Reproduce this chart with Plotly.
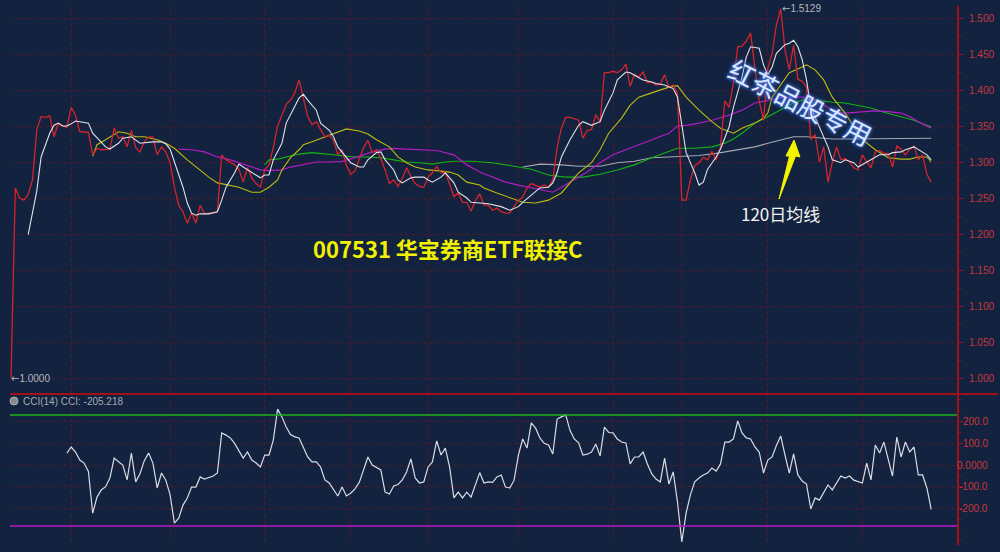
import plotly.graph_objects as go

# ---------------- data ----------------
close_days = list(range(0, 215))
close_values = [
    1.000, 1.264, 1.250, 1.247, 1.255, 1.275, 1.345, 1.363, 1.362, 1.364,
    1.335, 1.354, 1.350, 1.348, 1.376, 1.365, 1.342, 1.342, 1.341, 1.310,
    1.319, 1.317, 1.317, 1.318, 1.347, 1.333, 1.335, 1.321, 1.344, 1.320,
    1.314, 1.328, 1.335, 1.335, 1.310, 1.321, 1.314, 1.299, 1.265, 1.240,
    1.231, 1.215, 1.229, 1.215, 1.240, 1.228, 1.229, 1.229, 1.231, 1.310,
    1.303, 1.299, 1.296, 1.290, 1.272, 1.292, 1.278, 1.270, 1.265, 1.289,
    1.296, 1.320, 1.350, 1.365, 1.380, 1.386, 1.396, 1.414, 1.390, 1.363,
    1.352, 1.356, 1.345, 1.335, 1.337, 1.330, 1.310, 1.317, 1.295, 1.283,
    1.288, 1.305, 1.320, 1.330, 1.313, 1.317, 1.305, 1.289, 1.270, 1.275,
    1.266, 1.277, 1.292, 1.280, 1.270, 1.266, 1.265, 1.279, 1.285, 1.294,
    1.285, 1.286, 1.270, 1.252, 1.257, 1.244, 1.244, 1.232, 1.246, 1.256,
    1.240, 1.240, 1.233, 1.236, 1.231, 1.229, 1.229, 1.239, 1.247, 1.251,
    1.264, 1.270, 1.268, 1.265, 1.268, 1.265, 1.275, 1.320, 1.347, 1.362,
    1.362, 1.360, 1.358, 1.333, 1.344, 1.345, 1.366, 1.355, 1.424, 1.424,
    1.426, 1.424, 1.428, 1.436, 1.405, 1.422, 1.418, 1.425, 1.410, 1.411,
    1.407, 1.408, 1.421, 1.404, 1.407, 1.395, 1.247, 1.247, 1.275, 1.295,
    1.299, 1.306, 1.303, 1.315, 1.303, 1.321, 1.385, 1.376, 1.410, 1.460,
    1.461, 1.468, 1.479, 1.430, 1.385, 1.358, 1.430, 1.451, 1.490, 1.5129,
    1.456, 1.428, 1.462, 1.415, 1.412, 1.404, 1.331, 1.338, 1.300, 1.321,
    1.272, 1.300, 1.321, 1.303, 1.305, 1.300, 1.292, 1.289, 1.310, 1.300,
    1.292, 1.314, 1.316, 1.312, 1.312, 1.293, 1.322, 1.318, 1.310, 1.318,
    1.322, 1.303, 1.310, 1.283, 1.272,
]

ma5_days = [4, 6, 7, 9, 10, 11, 12, 13, 14, 15, 16, 18, 19, 21, 22, 23, 25, 26, 27, 28,
            30, 32, 33, 35, 36, 37, 38, 39, 40, 41, 42, 43, 44, 46, 48, 49, 50, 52, 53, 54,
            56, 58, 59, 60, 61, 63, 64, 66, 67, 68, 69, 71, 72, 74, 75, 76, 78, 79, 81, 82,
            83, 85, 86, 87, 89, 90, 91, 93, 94, 96, 97, 98, 100, 101, 103, 104, 106, 107, 109, 111,
            114, 115, 116, 118, 119, 121, 123, 125, 126, 127, 128, 130, 132, 133, 134, 135, 137, 138, 140, 141,
            143, 144, 146, 147, 149, 150, 152, 153, 154, 155, 156, 157, 159, 160, 161, 162, 164, 165, 167, 168,
            170, 171, 172, 174, 175, 176, 177, 178, 180, 181, 182, 183, 184, 185, 186, 188, 190, 191, 193, 194,
            196, 197, 199, 200, 202, 204, 205, 207, 208, 210, 211, 213, 214]
ma5_values = [1.199, 1.260, 1.307, 1.340, 1.351, 1.354, 1.350, 1.350, 1.353, 1.357, 1.356, 1.354, 1.340, 1.328, 1.321, 1.318, 1.326, 1.333, 1.334, 1.335,
              1.326, 1.328, 1.328, 1.328, 1.325, 1.318, 1.300, 1.285, 1.265, 1.243, 1.229, 1.226, 1.228, 1.228, 1.231, 1.247, 1.265, 1.285, 1.297, 1.293,
              1.285, 1.278, 1.282, 1.282, 1.303, 1.326, 1.354, 1.376, 1.389, 1.394, 1.386, 1.372, 1.354, 1.344, 1.335, 1.321, 1.307, 1.299, 1.293, 1.293,
              1.303, 1.313, 1.314, 1.303, 1.289, 1.275, 1.271, 1.278, 1.279, 1.279, 1.275, 1.272, 1.279, 1.285, 1.271, 1.258, 1.250, 1.244, 1.243, 1.242,
              1.238, 1.236, 1.233, 1.238, 1.244, 1.254, 1.264, 1.265, 1.271, 1.285, 1.307, 1.331, 1.351, 1.356, 1.354, 1.351, 1.356, 1.372, 1.396, 1.414,
              1.425, 1.424, 1.417, 1.414, 1.411, 1.409, 1.407, 1.404, 1.402, 1.390, 1.354, 1.313, 1.285, 1.268, 1.272, 1.290, 1.307, 1.318, 1.349, 1.376,
              1.418, 1.446, 1.460, 1.458, 1.435, 1.421, 1.432, 1.451, 1.463, 1.465, 1.469, 1.460, 1.442, 1.414, 1.376, 1.349, 1.321, 1.303, 1.299, 1.303,
              1.299, 1.293, 1.300, 1.303, 1.310, 1.310, 1.313, 1.314, 1.317, 1.321, 1.317, 1.310, 1.303]

ma10_days = [19, 20, 22, 25, 27, 29, 31, 34, 36, 38, 41, 44, 46, 48, 51, 53, 56, 58, 60, 62,
             63, 65, 67, 68, 70, 73, 75, 78, 81, 83, 85, 88, 90, 92, 94, 97, 99, 102, 104, 106,
             109, 110, 113, 116, 119, 122, 125, 128, 130, 132, 135, 137, 139, 142, 144, 146, 149, 151, 153, 155,
             157, 160, 163, 165, 168, 170, 173, 175, 176, 177, 179, 181, 184, 185, 187, 189, 191, 194, 196, 198,
             201, 203, 204, 207, 209, 211, 213, 214]
ma10_values = [1.308, 1.324, 1.331, 1.342, 1.340, 1.335, 1.335, 1.331, 1.326, 1.319, 1.303, 1.289, 1.279, 1.271, 1.268, 1.265, 1.258, 1.258, 1.265, 1.275,
               1.289, 1.306, 1.317, 1.324, 1.328, 1.335, 1.340, 1.346, 1.343, 1.339, 1.331, 1.321, 1.307, 1.299, 1.293, 1.289, 1.288, 1.286, 1.282, 1.272,
               1.268, 1.264, 1.257, 1.251, 1.244, 1.243, 1.247, 1.257, 1.271, 1.285, 1.299, 1.317, 1.340, 1.361, 1.379, 1.390, 1.396, 1.400, 1.404, 1.406,
               1.390, 1.372, 1.356, 1.347, 1.340, 1.347, 1.354, 1.361, 1.368, 1.390, 1.407, 1.424, 1.432, 1.435, 1.428, 1.414, 1.390, 1.368, 1.349, 1.331,
               1.317, 1.310, 1.306, 1.304, 1.304, 1.307, 1.307, 1.300]

ma20_days = [59, 60, 62, 65, 67, 70, 73, 77, 80, 83, 86, 89, 92, 95, 98, 101, 103, 107, 112, 117,
             121, 125, 129, 133, 137, 141, 145, 149, 153, 155, 159, 163, 166, 168, 170, 173, 176, 179, 182, 185,
             187, 191, 194, 197, 200, 203, 207, 210, 212, 214]
ma20_values = [1.296, 1.303, 1.304, 1.308, 1.311, 1.313, 1.311, 1.308, 1.307, 1.307, 1.306, 1.303, 1.300, 1.299, 1.297, 1.300, 1.301, 1.301, 1.299, 1.294,
               1.290, 1.282, 1.279, 1.279, 1.283, 1.289, 1.296, 1.306, 1.314, 1.319, 1.319, 1.321, 1.326, 1.332, 1.340, 1.354, 1.363, 1.372, 1.382, 1.388,
               1.386, 1.383, 1.382, 1.379, 1.375, 1.369, 1.363, 1.358, 1.353, 1.349]

ma30_days = [39, 42, 45, 48, 51, 53, 56, 58, 60, 63, 65, 68, 71, 74, 77, 80, 82, 84, 87, 89,
             92, 95, 99, 103, 106, 109, 112, 115, 118, 121, 124, 126, 128, 131, 134, 137, 140, 143, 146, 149,
             153, 155, 157, 160, 163, 167, 170, 173, 176, 179, 182, 184, 187, 190, 192, 194, 197, 201, 204, 207,
             209, 211, 214]
ma30_values = [1.318, 1.317, 1.314, 1.307, 1.303, 1.299, 1.293, 1.289, 1.288, 1.289, 1.293, 1.297, 1.300, 1.300, 1.301, 1.306, 1.310, 1.314, 1.318, 1.319,
               1.318, 1.317, 1.316, 1.310, 1.296, 1.286, 1.279, 1.272, 1.268, 1.264, 1.261, 1.258, 1.265, 1.275, 1.286, 1.299, 1.310, 1.317, 1.324, 1.331,
               1.340, 1.350, 1.351, 1.354, 1.358, 1.365, 1.372, 1.382, 1.386, 1.389, 1.390, 1.390, 1.386, 1.376, 1.369, 1.368, 1.369, 1.371, 1.370, 1.368,
               1.363, 1.356, 1.347]

ma120_days = [119, 123, 128, 132, 137, 141, 145, 149, 153, 156, 160, 164, 168, 170, 173, 176, 179, 182, 185, 188,
              191, 194, 199, 204, 209, 214]
ma120_values = [1.293, 1.297, 1.296, 1.294, 1.294, 1.299, 1.301, 1.306, 1.307, 1.308, 1.309, 1.312, 1.316, 1.319, 1.321, 1.326, 1.331, 1.335, 1.335, 1.333,
                1.332, 1.332, 1.332, 1.332, 1.333, 1.333]

cci_days = list(range(13, 215))
cci_values = [
    55, 83, 60, 23, 9, -30, -222, -148, -115, -100,
    -60, 32, 15, 0, -69, 55, -78, -40, 20, 55,
    9, -106, -37, -70, -138, -268, -245, -185, -152, -102,
    -102, -55, -65, -58, -51, -37, 148, 138, 125, 100,
    65, 32, 60, 23, 9, -9, 46, 46, 115, 258,
    222, 175, 140, 130, 125, 80, 37, 14, 14, -9,
    -69, -83, -115, -143, -102, -143, -130, -110, -80, -20,
    37, 0, -10, -23, -125, -134, -97, -90, -69, -32,
    28, -60, -83, -78, -9, 14, 111, 46, 78, -9,
    -152, -125, -152, -125, -148, -90, -35, -83, -78, -80,
    -55, -46, -102, -106, -70, 46, 120, 78, 194, 170,
    125, 100, 92, 51, 212, 222, 231, 160, 120, 102,
    46, 50, 60, 97, 42, 175, 150, 148, 120, 106,
    102, 5, 37, 37, 60, 5, -40, -65, -78, 32,
    -88, -32, -171, -355, -222, -138, -78, -60, -46, -37,
    -14, -28, 5, 106, 106, 120, 203, 148, 125, 120,
    83, 60, -37, 23, 37, 90, 134, 46, -37, 51,
    -46, -74, -88, -203, -152, -162, -125, -92, -115, -80,
    -51, -60, -51, -70, -78, -83, 9, -69, 92, 55,
    106, 30, -51, 129, 37, 106, 60, 83, -46, -46,
    -106, -205.218,
]
assert len(cci_values) == len(cci_days)
assert len(close_values) == len(close_days)

cci_upper_level = 231
cci_lower_level = -281
month_start_days = [14, 37, 59, 79, 97, 118, 140, 156, 176, 198]
price_ticks = [1.00, 1.05, 1.10, 1.15, 1.20, 1.25, 1.30, 1.35, 1.40, 1.45, 1.50]
cci_ticks = [200, 100, 0, -100, -200]
cci_tick_labels = ["200.0", "100.0", "0.0000", "-100.0", "-200.0"]

fund_title = "007531 华宝券商ETF联接C"
ma_note = "120日均线"
watermark = "红茶品股专用"
cci_label = "CCI(14) CCI: -205.218"

# ---------------- figure layout helpers ----------------
W, H = 1000, 552
ML, MR = 10, 43
PW = W - ML - MR


def paper(xp, yp):
    return (xp - ML) / PW, (H - yp) / H


BG = "#12223f"
GRID = "#561727"
AXIS = "#a01018"
TICKC = "#c8383c"
FONT = "Liberation Sans, Arial, sans-serif"
CJK = "Noto Sans CJK SC, sans-serif"
ARROW = "<span style='font-family:DejaVu Sans'>←</span>"

fig = go.Figure()

line_specs = [
    (ma120_days, ma120_values, "#a4a8b2", 1.1),
    (ma20_days, ma20_values, "#12b412", 1.1),
    (ma30_days, ma30_values, "#b41cc4", 1.2),
    (ma10_days, ma10_values, "#bdbd12", 1.1),
    (close_days, close_values, "#d4242c", 1.3),
    (ma5_days, ma5_values, "#dfe3ea", 1.1),
]
for xs, ys, col, w in line_specs:
    fig.add_trace(go.Scatter(x=xs, y=ys, mode="lines", line=dict(color=col, width=w),
                             hoverinfo="skip", showlegend=False, xaxis="x", yaxis="y"))

fig.add_trace(go.Scatter(x=cci_days, y=cci_values, mode="lines",
                         line=dict(color="#d8dce4", width=1.2),
                         hoverinfo="skip", showlegend=False, xaxis="x2", yaxis="y2"))

main_top_px, main_bot_px = 6, 394
sub_top_px, sub_bot_px = 394, 545
# price scale: 1.000 at y=378 px, 0.05 per 36 px
p_per_px = 0.05 / 36
main_range = [1.0 - (main_bot_px - 378) * p_per_px, 1.0 + (378 - main_top_px) * p_per_px]
# cci scale: 0 at y=465 px, 100 per 21.67 px
c_per_px = 100 / 21.67
sub_range = [-(sub_bot_px - 465) * c_per_px, (465 - sub_top_px) * c_per_px]

x_range = [-(11 - ML) / 4.3, (W - MR - 11) / 4.3]

xcommon = dict(range=x_range, tickvals=month_start_days, showticklabels=False,
               showgrid=True, gridcolor=GRID, griddash="dot", gridwidth=1,
               zeroline=False, showline=False, ticks="", fixedrange=True)

fig.update_layout(
    width=W, height=H,
    margin=dict(l=ML, r=MR, t=0, b=0, pad=0),
    paper_bgcolor=BG, plot_bgcolor=BG,
    showlegend=False,
    xaxis=dict(domain=[0, 1], anchor="y", **xcommon),
    xaxis2=dict(domain=[0, 1], anchor="y2", matches="x", **xcommon),
    yaxis=dict(domain=[(H - main_bot_px) / H, (H - main_top_px) / H], range=main_range,
               side="right", anchor="x", tickvals=price_ticks, tickformat=".3f",
               tickfont=dict(family=FONT, size=10, color=TICKC),
               ticks="outside", ticklen=4, tickcolor=AXIS, tickwidth=1,
               minor=dict(dtick=0.025, tick0=1.0, ticks="outside", ticklen=2, tickcolor=AXIS, showgrid=False),
               showline=True, linecolor=AXIS, linewidth=2,
               showgrid=True, gridcolor=GRID, griddash="dot", gridwidth=1, zeroline=False,
               ticklabelstandoff=4),
    yaxis2=dict(domain=[(H - sub_bot_px) / H, (H - sub_top_px) / H], range=sub_range,
                side="right", anchor="x2", tickvals=cci_ticks, showticklabels=False,
                ticks="outside", ticklen=4, tickcolor=AXIS, tickwidth=1,
                minor=dict(dtick=50, tick0=0, ticks="outside", ticklen=2, tickcolor=AXIS, showgrid=False),
                showline=True, linecolor=AXIS, linewidth=2,
                showgrid=True, gridcolor=GRID, griddash="dot", gridwidth=1, zeroline=False),
)

shapes = []
# pane separator
sx0, sy = paper(ML, 394)
sx1, _ = paper(998, 394)
shapes.append(dict(type="line", xref="paper", yref="paper", x0=0, x1=sx1, y0=sy, y1=sy,
                   line=dict(color=AXIS, width=2)))
# CCI reference levels
shapes.append(dict(type="line", xref="x2 domain", yref="y2", x0=0, x1=1,
                   y0=cci_upper_level, y1=cci_upper_level, line=dict(color="#1eb41e", width=1.5)))
shapes.append(dict(type="line", xref="x2 domain", yref="y2", x0=0, x1=1,
                   y0=cci_lower_level, y1=cci_lower_level, line=dict(color="#b818c8", width=1.5)))
# CCI icon
cx0, cy0 = paper(10, 405)
cx1, cy1 = paper(18, 397)
shapes.append(dict(type="circle", xref="paper", yref="paper", x0=cx0, y0=cy0, x1=cx1, y1=cy1,
                   fillcolor="#8a8a8a", line=dict(color="#b0b0b0", width=1)))
# yellow arrow (pointing at 120-day line)
arrow_px = [(794, 140), (800, 157), (795.5, 156), (779, 199), (789.5, 156), (786, 156)]
pts = [paper(a, b) for a, b in arrow_px]
path = "M " + " L ".join(f"{a:.5f},{b:.5f}" for a, b in pts) + " Z"
shapes.append(dict(type="path", xref="paper", yref="paper", path=path,
                   fillcolor="#f4f400", line=dict(color="#f4f400", width=1)))

annotations = []
# CCI tick labels, right aligned
lx, _ = paper(990, 0)
for v, t in zip(cci_ticks, cci_tick_labels):
    annotations.append(dict(x=lx, xref="paper", y=v, yref="y2", text=t, showarrow=False,
                            xanchor="right", yanchor="middle",
                            font=dict(family=FONT, size=10, color=TICKC)))
# min / max markers
annotations.append(dict(x=close_days[0], y=close_values[0], xref="x", yref="y",
                        text=ARROW + f"{close_values[0]:.4f}", showarrow=False,
                        xanchor="left", yanchor="middle", xshift=-2,
                        font=dict(family=FONT, size=10, color="#b4b8c0")))
imax = close_values.index(max(close_values))
annotations.append(dict(x=close_days[imax], y=close_values[imax], xref="x", yref="y",
                        text=ARROW + f"{close_values[imax]:.4f}", showarrow=False,
                        xanchor="left", yanchor="middle", xshift=-1,
                        font=dict(family=FONT, size=10, color="#b4b8c0")))
# CCI label
tx, ty = paper(21, 401)
annotations.append(dict(x=tx, y=ty, xref="paper", yref="paper", text=cci_label, showarrow=False,
                        xanchor="left", yanchor="middle",
                        font=dict(family=FONT, size=10, color="#a8acb4")))
# fund title
tx, ty = paper(447, 248)
annotations.append(dict(x=tx, y=ty, xref="paper", yref="paper", text=f"<b>{fund_title}</b>",
                        showarrow=False, xanchor="center", yanchor="middle",
                        font=dict(family=CJK, size=22, color="#f2f200")))
# 120-day note
tx, ty = paper(780, 213)
annotations.append(dict(x=tx, y=ty, xref="paper", yref="paper", text=ma_note,
                        showarrow=False, xanchor="center", yanchor="middle",
                        font=dict(family=CJK, size=17, color="#f4f4f4")))
# watermark
tx, ty = paper(801, 101)
annotations.append(dict(x=tx, y=ty, xref="paper", yref="paper", text=watermark,
                        showarrow=False, xanchor="center", yanchor="middle", textangle=27,
                        font=dict(family=CJK, size=26, color="#dce8ff",
                                  shadow="0px 0px 3px #4f86ff, 0px 0px 5px #3a6ae0")))

fig.update_layout(shapes=shapes, annotations=annotations)

fig.write_html("out.html")
